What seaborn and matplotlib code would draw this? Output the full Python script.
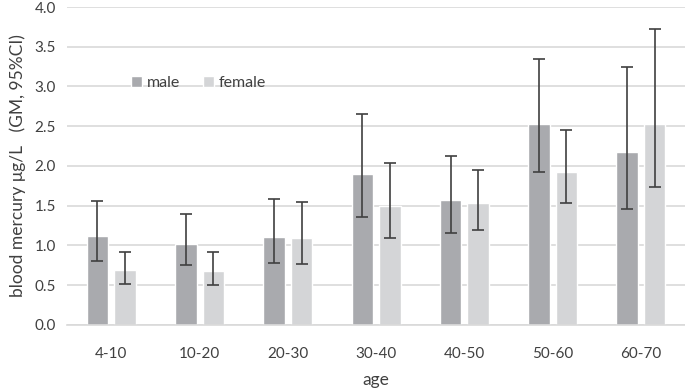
#!/usr/bin/env python3

import pandas as pd
import numpy as np
import matplotlib
matplotlib.use("Agg")
import matplotlib.pyplot as plt
import seaborn as sns

# values (geometric mean, 95% CI)
ages = ["4-10", "10-20", "20-30", "30-40", "40-50", "50-60", "60-70"]
male_gm = [1.12, 1.02, 1.11, 1.90, 1.57, 2.53, 2.18]
male_lo = [0.80, 0.75, 0.78, 1.36, 1.16, 1.92, 1.46]
male_hi = [1.56, 1.39, 1.58, 2.65, 2.12, 3.34, 3.24]
female_gm = [0.69, 0.68, 1.09, 1.50, 1.53, 1.93, 2.53]
female_lo = [0.52, 0.50, 0.76, 1.09, 1.19, 1.53, 1.73]
female_hi = [0.92, 0.92, 1.55, 2.04, 1.95, 2.45, 3.72]

df = pd.DataFrame({
    "age": ages * 2,
    "sex": ["male"] * len(ages) + ["female"] * len(ages),
    "gm": male_gm + female_gm,
    "lo": male_lo + female_lo,
    "hi": male_hi + female_hi,
})

sns.set_style("white")
plt.rcParams["font.family"] = ["Lato", "DejaVu Sans"]
text_col = "#404040"

fig = plt.figure(figsize=(6.85, 3.9), dpi=100)
ax = fig.add_axes([0.098, 0.167, 0.902, 0.815])

sns.barplot(data=df, x="age", y="gm", hue="sex", order=ages,
            hue_order=["male", "female"],
            palette={"male": "#a9aaae", "female": "#d4d5d7"},
            width=0.624, gap=0.217, errorbar=None, saturation=1,
            ax=ax, zorder=2)

# asymmetric CI bars, placed on the bars seaborn drew
for cont, sex in zip(ax.containers, ["male", "female"]):
    sub = df[df["sex"] == sex].set_index("age").loc[ages]
    xs = [p.get_x() + p.get_width() / 2 for p in cont.patches]
    yerr = np.array([sub["gm"] - sub["lo"], sub["hi"] - sub["gm"]])
    ax.errorbar(xs, sub["gm"], yerr=yerr, fmt="none", ecolor="#404040",
                elinewidth=1.2, capsize=4.5, capthick=1.2, zorder=3)

ax.set_ylim(0, 4.0)
ax.set_yticks(np.arange(0, 4.01, 0.5))
ax.set_yticklabels([f"{v:.1f}" for v in np.arange(0, 4.01, 0.5)])
ax.set_xlim(-0.5, len(ages) - 0.5)
ax.yaxis.grid(True, color="#d9d9d9", linewidth=1.2, zorder=0)
ax.set_axisbelow(True)
for s in ["top", "right", "left"]:
    ax.spines[s].set_visible(False)
ax.spines["bottom"].set_color("#d9d9d9")
ax.spines["bottom"].set_linewidth(1.2)
ax.tick_params(axis="both", length=0, labelsize=11, colors=text_col, pad=8)
ax.tick_params(axis="x", pad=16)

ax.set_xlabel("age", fontsize=12.5, color=text_col, labelpad=8)
ax.set_ylabel("blood mercury \u03bcg/L   (GM, 95%CI)", fontsize=12.5,
              color=text_col, labelpad=6)

ax.legend(loc="center left", bbox_to_anchor=(0.08, 0.76), ncol=2,
          frameon=False, fontsize=11.5, handlelength=0.7, handleheight=0.7,
          handletextpad=0.3, columnspacing=1.4, labelcolor=text_col)

fig.savefig("out.png", dpi=100)
plt.close(fig)
